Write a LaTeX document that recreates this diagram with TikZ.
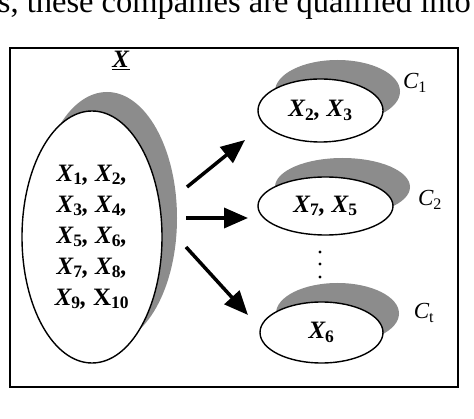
\documentclass[tikz,border=0pt]{standalone}
\usepackage{fontspec}
\setmainfont{Liberation Serif}
\usetikzlibrary{shapes.geometric,shadows,arrows.meta}
\newcommand{\xsub}[1]{\textit{X}\textsubscript{\upshape#1}}
\begin{document}
\begin{tikzpicture}
[x=1pt,y=1pt,
 setstyle/.style={ellipse,draw,line width=1.4pt,fill=white,inner sep=0pt,%
   font=\fontsize{25}{31}\selectfont\bfseries\itshape,align=center},%
 shade/.style={drop shadow={shadow xshift=#1,shadow yshift=19pt,fill=black!45,opacity=1}},%
 arrowstyle/.style={line width=3.5pt,-{Triangle[length=24pt,width=20pt]}},%
 clusterstyle/.style={font=\fontsize{23}{27}\selectfont\itshape}]
\useasboundingbox (0,0) rectangle (474,418);
\clip (0,0) rectangle (474,418);
%% text of the page above the figure
\node[anchor=base east,inner sep=0pt,font=\fontsize{32.5}{38}\selectfont]
  (pagetext) at (471,405) {s, these companies are qualified into};
%% frame
\draw[line width=2pt] (10,370) rectangle (458,31);
%% the whole set
\node[anchor=base,inner sep=0pt,font=\fontsize{25}{30}\selectfont\bfseries]
  (setname) at (121,350) {\underline{\textit{X}}};
\node[setstyle,shade=15pt,minimum width=140pt,minimum height=252pt]
  (whole) at (92,181)
  {\xsub{1}, \xsub{2},\\ \xsub{3}, \xsub{4},\\ \xsub{5}, \xsub{6},\\
   \xsub{7}, \xsub{8},\\ \xsub{9}, {\upshape X}\textsubscript{\upshape 10}};
%% the clusters
\node[setstyle,shade=17pt,minimum width=125pt,minimum height=63pt]
  (first) at (320.5,307.5) {\xsub{2}, \xsub{3}};
\node[setstyle,shade=17pt,minimum width=135pt,minimum height=58pt]
  (second) at (325.5,212) {\xsub{7}, \xsub{5}};
\node[setstyle,shade=16pt,minimum width=123pt,minimum height=61pt]
  (last) at (321.5,85.5) {\xsub{6}};
\node[clusterstyle] (cfirst) at (415,335) {C\textsubscript{\upshape 1}};
\node[clusterstyle] (csecond) at (430,218) {C\textsubscript{\upshape 2}};
\node[clusterstyle] (clast) at (424,105) {C\textsubscript{\upshape t}};
%% dots between the clusters
\foreach \y in {166,154,141}
  \fill (320,\y) circle (1.6);
%% arrows
\coordinate (tailone) at (187,231);
\coordinate (tipone) at (245,278);
\coordinate (tailtwo) at (186,200);
\coordinate (tiptwo) at (248,200);
\coordinate (tailthree) at (186,171);
\coordinate (tipthree) at (248,103);
\draw[arrowstyle] (tailone) -- (tipone);
\draw[arrowstyle] (tailtwo) -- (tiptwo);
\draw[arrowstyle] (tailthree) -- (tipthree);
\end{tikzpicture}
\end{document}
